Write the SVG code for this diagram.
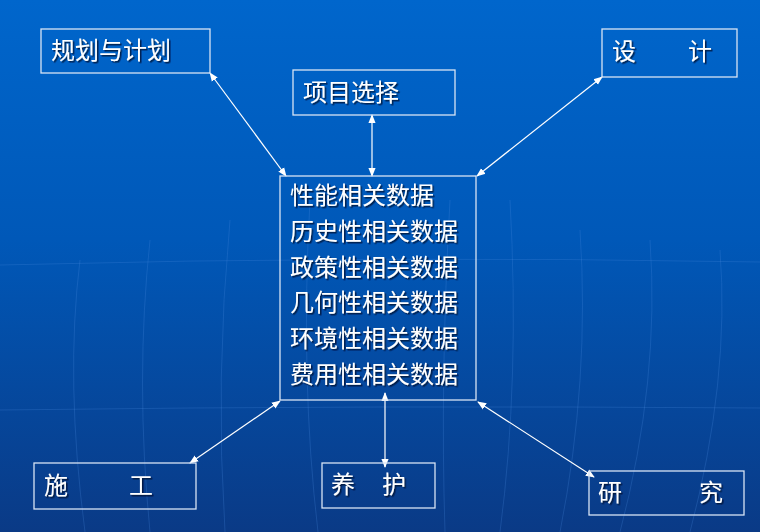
<svg xmlns="http://www.w3.org/2000/svg" width="760" height="532" viewBox="0 0 760 532">
<defs>
<linearGradient id="bg" x1="0" y1="0" x2="0" y2="1">
<stop offset="0" stop-color="#0066cc"/>
<stop offset="0.45" stop-color="#0058b8"/>
<stop offset="1" stop-color="#0a3a86"/>
</linearGradient>
<marker id="ah" viewBox="0 0 10 10" refX="9" refY="5" markerWidth="9" markerHeight="9" orient="auto-start-reverse" markerUnits="userSpaceOnUse">
<path d="M0,1 L10,5 L0,9 z" fill="#ffffff"/>
</marker>
<filter id="sh" x="-5%" y="-20%" width="110%" height="140%">
<feDropShadow dx="1.5" dy="1.5" stdDeviation="0.6" flood-color="#001030" flood-opacity="0.8"/>
</filter>
</defs>
<style>
.box{fill:none;stroke:#d8e4f4;stroke-width:1.3}
.t{font-family:"Noto Sans CJK SC","Noto Sans",sans-serif;font-size:24px;fill:#ffffff;filter:url(#sh)}
.c{stroke:#ffffff;stroke-width:1.2;fill:none;marker-start:url(#ah);marker-end:url(#ah)}
.g{stroke:#4a8ae0;stroke-width:1;fill:none;opacity:0.25}
</style>
<rect width="760" height="532" fill="url(#bg)"/>
<g>
<path class="g" d="M0,265 Q380,255 760,262"/>
<path class="g" d="M0,410 Q380,405 760,408"/>
<path class="g" d="M310,200 Q300,380 318,532"/>
<path class="g" d="M450,200 Q440,380 445,532"/>
<path class="g" d="M510,200 Q520,380 500,532"/>
<path class="g" d="M580,230 Q590,380 560,532"/>
<path class="g" d="M650,240 Q660,380 620,532"/>
<path class="g" d="M720,250 Q730,380 690,532"/>
<path class="g" d="M230,220 Q215,380 225,532"/>
<path class="g" d="M150,240 Q135,380 150,532"/>
<path class="g" d="M80,260 Q65,380 85,532"/>
</g>
<g id="connectors">
<line class="c" x1="210" y1="73" x2="286" y2="176"/>
<line class="c" x1="372" y1="115" x2="372" y2="176"/>
<line class="c" x1="602" y1="77" x2="477" y2="176"/>
<line class="c" x1="190" y1="463" x2="280" y2="401"/>
<line class="c" x1="385" y1="393" x2="385" y2="467"/>
<line class="c" x1="478" y1="402" x2="594" y2="477"/>
</g>
<g id="plan"><rect class="box" x="41" y="29" width="169" height="44"/><text class="t" x="51" y="59">规划与计划</text></g>
<g id="select"><rect class="box" x="293" y="70" width="162" height="45"/><text class="t" x="303" y="101">项目选择</text></g>
<g id="design"><rect class="box" x="602" y="29" width="135" height="48"/><text class="t" x="612" y="60">设</text><text class="t" x="688" y="60">计</text></g>
<g id="data"><rect class="box" x="280" y="176" width="196" height="224"/>
<text class="t" x="290" y="204">性能相关数据</text>
<text class="t" x="290" y="240">历史性相关数据</text>
<text class="t" x="290" y="276">政策性相关数据</text>
<text class="t" x="290" y="311">几何性相关数据</text>
<text class="t" x="290" y="347">环境性相关数据</text>
<text class="t" x="290" y="383">费用性相关数据</text>
</g>
<g id="build"><rect class="box" x="34" y="463" width="162" height="46"/><text class="t" x="44" y="494">施</text><text class="t" x="129" y="494">工</text></g>
<g id="maintain"><rect class="box" x="322" y="463" width="113" height="45"/><text class="t" x="331" y="493">养</text><text class="t" x="382" y="493">护</text></g>
<g id="research"><rect class="box" x="589" y="471" width="155" height="44"/><text class="t" x="598" y="501">研</text><text class="t" x="699" y="501">究</text></g>
</svg>
